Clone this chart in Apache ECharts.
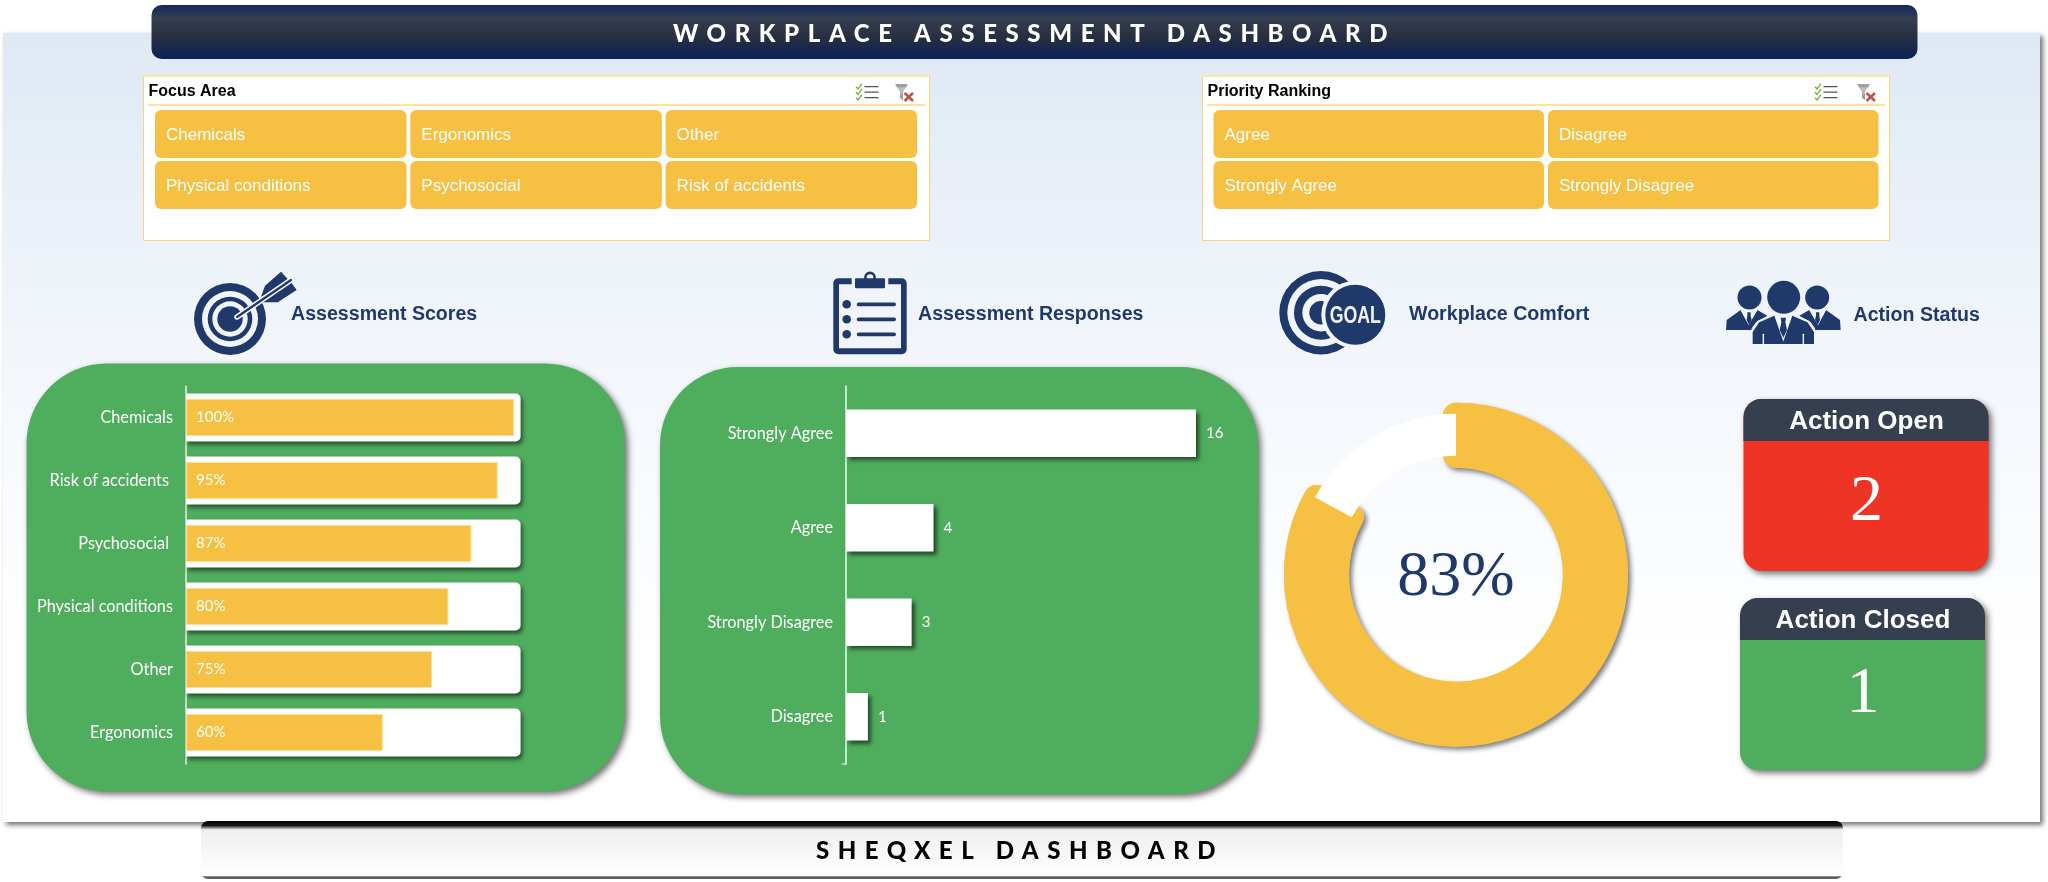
<!DOCTYPE html>
<html><head><meta charset="utf-8">
<style>
html,body{margin:0;padding:0;background:#fff;width:2048px;height:882px;overflow:hidden}
#chart{position:absolute;left:0;top:0;width:2048px;height:882px}
.spaced{position:absolute;white-space:nowrap;font-family:Lato,"Liberation Sans",sans-serif;font-weight:900;font-size:24px;line-height:30px}
#title{left:673px;top:18px;color:#fff;letter-spacing:8.6px}
#foot{left:816px;top:835px;color:#000;letter-spacing:8.5px}
</style>
<script src="https://cdn.jsdelivr.net/npm/echarts@6/dist/echarts.min.js"></script>
</head><body>
<div id="chart"></div>
<div id="title" class="spaced">WORKPLACE ASSESSMENT DASHBOARD</div>
<div id="foot" class="spaced">SHEQXEL DASHBOARD</div>
<script>
const focusAreaOptions = ['Chemicals','Ergonomics','Other','Physical conditions','Psychosocial','Risk of accidents'];
const priorityOptions = ['Agree','Disagree','Strongly Agree','Strongly Disagree'];
const scoreCategories = ['Chemicals','Risk of accidents','Psychosocial','Physical conditions','Other','Ergonomics'];
const scoreValues = [100,95,87,80,75,60];
const scoreTrack = [102,102,102,102,102,102];
const responseCategories = ['Strongly Agree','Agree','Strongly Disagree','Disagree'];
const responseValues = [16,4,3,1];
const comfortPercent = 83;
const actionOpen = 2;
const actionClosed = 1;

const NAVY='#20396b', YEL='#f6c143', GREEN='#4fad5e', SLATE='#353f4f', PAPER='#f1f5fb';
const SANS='"Liberation Sans",Arial,sans-serif', SERIF='"Liberation Serif",serif', GEO='Lato,sans-serif';
const LG=(stops)=>new echarts.graphic.LinearGradient(0,0,0,1,stops.map(s=>({offset:s[0],color:s[1]})));
const shadow={shadowColor:'rgba(0,0,0,0.55)',shadowBlur:6,shadowOffsetX:3,shadowOffsetY:3};

const rect=(x,y,w,h,r,fill,extra={})=>({type:'rect',shape:{x,y,width:w,height:h,r},style:Object.assign({fill},extra)});
const text=(t,x,y,font,fill,align='left')=>({type:'text',style:{text:t,x,y,font,fill,textAlign:align,textVerticalAlign:'middle'}});
const circ=(cx,cy,r,fill)=>({type:'circle',shape:{cx,cy,r},style:{fill}});
const poly=(pts,fill,extra={})=>({type:'polygon',shape:{points:pts},style:Object.assign({fill},extra)});
const line=(x1,y1,x2,y2,stroke,w)=>({type:'line',shape:{x1,y1,x2,y2},style:{stroke,lineWidth:w,lineCap:'round'}});
const pl=(pts,stroke,w)=>({type:'polyline',shape:{points:pts},style:{stroke,lineWidth:w,fill:'none'}});

const g=[];
g.push(rect(3,33,2037,789,0,LG([[0,'#dfe9f4'],[0.4,'#f2f6fb'],[0.6,'#f9fbfe'],[0.78,'#ffffff'],[1,'#ffffff']]),{shadowColor:'rgba(0,0,0,0.55)',shadowBlur:5,shadowOffsetX:3,shadowOffsetY:3}));
g.push(rect(151.5,5,1766,54,10,LG([[0,'#11285f'],[0.25,'#353f50'],[0.6,'#272e3f'],[1,'#0a2359']])));
g.push(rect(201,821,1642,58,7,LG([[0,'#000000'],[0.08,'#1a1a1a'],[0.15,'#efefef'],[0.5,'#f6f6f6'],[0.95,'#ffffff'],[0.96,'#555555'],[1,'#666666']])));

function slicerIcons(x1,x2){
  for(let i=0;i<3;i++){
    const y=86.7+i*5.5;
    g.push(pl([[x1,y],[x1+2,y+2.2],[x1+6,y-3]],'#72b043',1.3));
    g.push(line(x1+9,y,x1+22,y,'#555',1.3));
  }
  g.push(poly([[x2,84.3],[x2+13,84.3],[x2+8,92],[x2+8,100],[x2+5,98],[x2+5,92]],LG([[0,'#8a8a8a'],[0.3,'#c4c4c4'],[1,'#8f8f8f']])));
  g.push(pl([[x2+9.5,93],[x2+18,101]],'#c0504d',2.6));
  g.push(pl([[x2+18,93],[x2+9.5,101]],'#c0504d',2.6));
}
function slicer(x,w,title,opts,cols,bx,bw,gap){
  g.push(rect(x,75.5,w,165,0,'#fff',{stroke:'#f4d489',lineWidth:1}));
  g.push(line(x,76,x+w,76,'#fbe3a3',2));
  g.push(line(x+5,105,x+w-5,105,'#fde3a0',2));
  g.push(text(title,x+5,92,'bold 16px '+SANS,'#000'));
  opts.forEach((o,i)=>{
    const c=i%cols,r=Math.floor(i/cols);
    const bxx=bx+c*(bw+gap), by=110+r*51;
    g.push(rect(bxx,by,bw,48,6,YEL));
    g.push(text(o,bxx+11,by+25,'17px '+SANS,'#fff'));
  });
}
slicer(143.5,786,'Focus Area',focusAreaOptions,3,155,251.5,3.8);
slicerIcons(856,895);
slicer(1202.5,687,'Priority Ranking',priorityOptions,2,1213.5,330.5,4);
slicerIcons(1815,1857);

[['Assessment Scores',291,315],['Assessment Responses',918,315],['Workplace Comfort',1409,315],['Action Status',1853.5,316]]
 .forEach(h=>g.push(text(h[0],h[1],h[2],'bold 19.6px '+SANS,NAVY)));

// target icon
const T=[230,319];
g.push(circ(T[0],T[1],36,NAVY),circ(T[0],T[1],28,PAPER),circ(T[0],T[1],22.3,NAVY),circ(T[0],T[1],17.7,PAPER),circ(T[0],T[1],12.7,NAVY));
g.push(poly([[261,296.7],[265,285.7],[281,271.7],[287.7,279],[265,295]],NAVY),poly([[268.3,298.3],[291,282.3],[296.7,290],[277.7,302.3],[261,302.3]],NAVY));
g.push(line(237,317,291,280,PAPER,5.5),line(237,317,291,280,NAVY,2.2));
// clipboard icon
g.push(rect(833.3,278.3,73.4,76,5,NAVY),rect(839,284.3,62,64,0,PAPER),rect(851.7,278,36.6,7,0,PAPER));
g.push({type:'circle',shape:{cx:870,cy:277.5,r:4.6},style:{fill:PAPER,stroke:NAVY,lineWidth:2.6}});
g.push(rect(855,278.3,30,10,1,NAVY));
[304.3,319.3,334.3].forEach(y=>{g.push(circ(846.7,y,4.3,NAVY),rect(856.7,y-1.9,39.3,3.8,1.9,NAVY));});
// goal icon
const Q=[1321,312.7];
g.push(circ(Q[0],Q[1],41.7,NAVY),circ(Q[0],Q[1],33.7,PAPER),circ(Q[0],Q[1],27,NAVY),circ(Q[0],Q[1],18.7,PAPER),circ(Q[0],Q[1],11.7,NAVY));
g.push(circ(1355.3,314.7,34,PAPER),circ(1355.3,314.7,30,NAVY));
g.push({type:'text',x:1355.3,y:316,scaleX:0.74,style:{text:'GOAL',x:0,y:0,font:'bold 24px '+SANS,fill:PAPER,textAlign:'center',textVerticalAlign:'middle'}});
// people icon
const Z=(p)=>[p[0]/3+1720,p[1]/3+275];
const M=(p)=>[380-p[0],p[1]];
const sideBody=[[18,165],[20,135],[62,105],[86,150],[112,105],[142,122],[108,142],[95,160],[95,165]];
const sideTie=[[82,112],[92,112],[92,122],[95,135],[87,150],[80,135],[82,122]];
const sideCollarL=[[62,105],[86,150],[112,105]];
[p=>p,M].forEach(tr=>{
  g.push(poly(sideBody.map(tr).map(Z),NAVY));
  g.push(poly(sideCollarL.map(tr).map(Z),PAPER));
  g.push(poly(sideTie.map(tr).map(Z),NAVY));
  g.push({type:'circle',x:tr([88.5,0])[0]/3+1720,y:297.5,shape:{cx:0,cy:0,r:12},style:{fill:NAVY}});
});
const midBody=[[95,210],[95,170],[115,140],[165,118],[190,190],[215,118],[265,140],[285,170],[285,210]];
g.push(poly(midBody.map(Z),NAVY,{stroke:PAPER,lineWidth:2}));
g.push(poly([[163,118],[190,190],[217,118]].map(Z),PAPER));
g.push(poly([[182,128],[198,128],[196,142],[201,165],[190,188],[179,165],[184,142]].map(Z),NAVY));
g.push(line(...Z([130,178]),...Z([130,210]),PAPER,1.4),line(...Z([250,178]),...Z([250,210]),PAPER,1.4));
g.push(circ(1783.7,297.3,16.5,NAVY));

// green panels
g.push(rect(26.5,363.5,598.5,428,80,GREEN,shadow));
g.push(rect(660,367,598,427,78,GREEN,shadow));
g.push(line(842,764,846,764,'#f2f8f3',1));

// action cards
function card(x,y,title,val,color,valX,valY){
  g.push(rect(x,y,245,172,18,color,shadow));
  g.push(rect(x,y,245,42,[18,18,0,0],SLATE));
  g.push(text(title,x+123,y+22.5,'bold 26px '+SANS,'#fff','center'));
  g.push(text(String(val),valX,valY,'66px '+SERIF,'#fff','center'));
}
card(1743.5,399,'Action Open',actionOpen,'#ee3424',1866.5,503);
card(1740,598,'Action Closed',actionClosed,GREEN,1863,695);

g.push(text(comfortPercent+'%',1456,578,'64px '+SERIF,NAVY,'center'));

const indented=['Risk of accidents','Psychosocial'];
const catLabel={color:'#fff',fontFamily:GEO,fontSize:16.3,margin:13};
const none={show:false};
const ringSeries=(name,z,shadowed)=>({type:'pie',name,center:[1456,574.7],radius:[120,159],startAngle:90,silent:true,z,
  label:none,labelLine:none,
  data:[
    {value:comfortPercent,name:'Comfortable',itemStyle:Object.assign({color:YEL,borderColor:YEL,borderWidth:26,borderJoin:'round'},
      shadowed?{shadowColor:'rgba(0,0,0,0.5)',shadowBlur:5,shadowOffsetX:3,shadowOffsetY:3}:{})},
    {value:100-comfortPercent,name:'Rest',itemStyle:{color:'transparent'}}
  ]});
const option={
  animation:false,
  graphic:{elements:g},
  grid:[
    {left:186,top:386,width:334.6,height:378},
    {left:846,top:386,width:350,height:378}
  ],
  xAxis:[
    {gridIndex:0,type:'value',min:0,max:102,show:false},
    {gridIndex:1,type:'value',min:0,max:16,show:false}
  ],
  yAxis:[
    {gridIndex:0,type:'category',inverse:true,data:scoreCategories,
     axisLine:{lineStyle:{color:'#e6f3e8',width:1.5}},axisTick:none,
     axisLabel:Object.assign({},catLabel,{
       formatter:v=>indented.includes(v)?'{a|'+v+'}':v,
       rich:{a:{color:'#fff',fontFamily:GEO,fontSize:16.3,padding:[0,4,0,0]}}})},
    {gridIndex:0,type:'category',inverse:true,data:scoreCategories,show:false},
    {gridIndex:1,type:'category',inverse:true,data:responseCategories,
     axisLine:{lineStyle:{color:'#f2f8f3',width:1.5}},
     axisTick:{alignWithLabel:true,length:4,lineStyle:{color:'#f2f8f3'}},
     axisLabel:catLabel}
  ],
  series:[
    {type:'bar',name:'Track',xAxisIndex:0,yAxisIndex:0,data:scoreTrack,barWidth:48,silent:true,z:2,
     itemStyle:{color:'#fff',borderRadius:[0,5,5,0],shadowColor:'rgba(0,0,0,0.55)',shadowBlur:4,shadowOffsetX:2,shadowOffsetY:3}},
    {type:'bar',name:'Score',xAxisIndex:0,yAxisIndex:1,data:scoreValues,barWidth:37,silent:true,z:3,
     itemStyle:{color:YEL,borderColor:'#fbdf98',borderWidth:1},
     label:{show:true,position:'insideLeft',distance:10,color:'#fff',fontFamily:GEO,fontSize:15,formatter:'{c}%'}},
    {type:'bar',name:'Responses',xAxisIndex:1,yAxisIndex:2,data:responseValues,barWidth:47.5,silent:true,z:3,
     itemStyle:{color:'#fff',shadowColor:'rgba(0,0,0,0.55)',shadowBlur:4,shadowOffsetX:3,shadowOffsetY:3},
     label:{show:true,position:'right',distance:10,color:'#fff',fontFamily:GEO,fontSize:15}},
    ringSeries('Comfort shadow',3,true),
    ringSeries('Comfort',4,false),
    {type:'pie',name:'Remainder',center:[1456,574.7],radius:[119,161],startAngle:90,silent:true,z:5,
     label:none,labelLine:none,
     data:[
       {value:comfortPercent,name:'Comfortable',itemStyle:{color:'transparent'}},
       {value:100-comfortPercent,name:'Rest',itemStyle:{color:'#fff'}}
     ]}
  ]
};
echarts.init(document.getElementById('chart'),null,{renderer:'canvas',width:2048,height:882}).setOption(option);
</script>
</body></html>
